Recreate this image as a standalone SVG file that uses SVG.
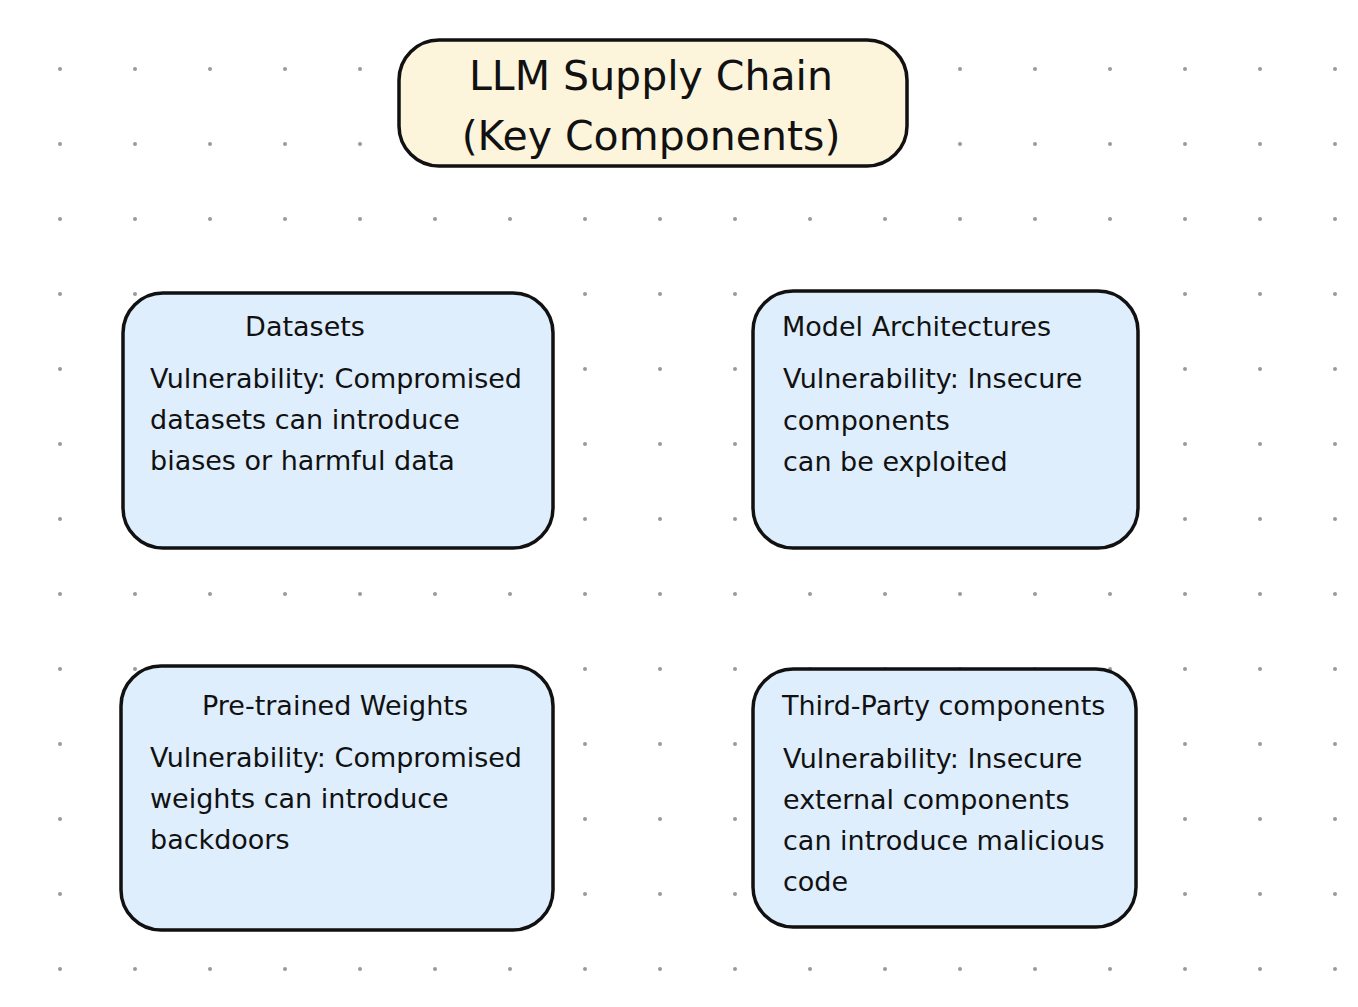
<svg xmlns="http://www.w3.org/2000/svg" width="1358" height="1007" viewBox="0 0 1358 1007">
<defs>
<pattern id="dots" x="0" y="0" width="75" height="75" patternUnits="userSpaceOnUse">
<circle cx="60" cy="69" r="2" fill="#9a9a9a"/>
</pattern>
</defs>
<style>
.box{fill:#dfeefc;stroke:#111;stroke-width:3.5}
.t{font-family:"DejaVu Sans",sans-serif;font-size:27px;fill:#111}
.title{font-family:"DejaVu Sans",sans-serif;font-size:41px;fill:#111}
</style>
<rect width="1358" height="1007" fill="#fff"/>
<rect width="1358" height="1007" fill="url(#dots)"/>
<g id="title">
<rect x="399" y="40" width="508" height="126" rx="40" fill="#fdf4dc" stroke="#111" stroke-width="3.5"/>
<text class="title" x="651" y="90" text-anchor="middle">LLM Supply Chain</text>
<text class="title" x="651" y="150" text-anchor="middle">(Key Components)</text>
</g>
<g id="datasets">
<rect class="box" x="123" y="293" width="430" height="255" rx="40"/>
<text class="t" x="305" y="336" text-anchor="middle">Datasets</text>
<text class="t" x="150" y="388">Vulnerability: Compromised</text>
<text class="t" x="150" y="429">datasets can introduce</text>
<text class="t" x="150" y="470">biases or harmful data</text>
</g>
<g id="model">
<rect class="box" x="753" y="291" width="385" height="257" rx="40"/>
<text class="t" x="782" y="336">Model Architectures</text>
<text class="t" x="783" y="388">Vulnerability: Insecure</text>
<text class="t" x="783" y="430">components</text>
<text class="t" x="783" y="471">can be exploited</text>
</g>
<g id="weights">
<rect class="box" x="121" y="666" width="432" height="264" rx="40"/>
<text class="t" x="335" y="715" text-anchor="middle">Pre-trained Weights</text>
<text class="t" x="150" y="767">Vulnerability: Compromised</text>
<text class="t" x="150" y="808">weights can introduce</text>
<text class="t" x="150" y="849">backdoors</text>
</g>
<g id="thirdparty">
<rect class="box" x="753" y="669" width="383" height="258" rx="40"/>
<text class="t" x="782" y="715">Third-Party components</text>
<text class="t" x="783" y="768">Vulnerability: Insecure</text>
<text class="t" x="783" y="809">external components</text>
<text class="t" x="783" y="850">can introduce malicious</text>
<text class="t" x="783" y="891">code</text>
</g>
<g id="connectors"></g>
</svg>
